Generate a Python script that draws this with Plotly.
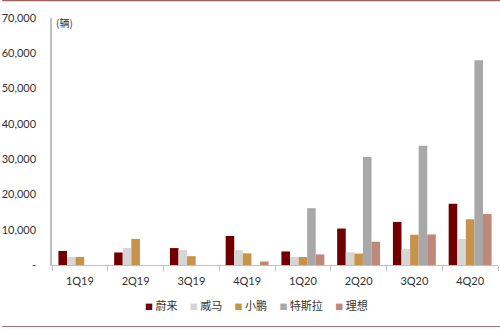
import plotly.graph_objects as go

quarters = ["1Q19", "2Q19", "3Q19", "4Q19", "1Q20", "2Q20", "3Q20", "4Q20"]
nio = [3989, 3553, 4799, 8224, 3838, 10331, 12206, 17353]
wm = [2300, 4800, 4200, 4200, 2300, 3600, 4500, 7400]
xpeng = [2300, 7400, 2500, 3300, 2271, 3228, 8578, 12964]
tesla = [None, None, None, None, 16100, 30600, 33800, 58000]
li = [None, None, None, 1000, 2989, 6604, 8660, 14464]

series_names = ["蔚来", "威马", "小鹏", "特斯拉", "理想"]
series_values = [nio, wm, xpeng, tesla, li]
colors = ["#700000", "#D6D6D6", "#C8924A", "#A8A8A8", "#C08878"]

y_ticks = [0, 10000, 20000, 30000, 40000, 50000, 60000, 70000]
y_ticktext = ["-"] + [f"{v:,}" for v in y_ticks[1:]]

fig = go.Figure()
for name, vals, c in zip(series_names, series_values, colors):
    fig.add_trace(go.Bar(x=quarters, y=vals, name=name, marker_color=c,
                         marker_line_width=0, showlegend=False))

L, R, T, B = 50, 2, 18, 64
W, H = 500, 329
pw, ph = W - L - R, H - T - B

sep = "\u00a0" * 5
legend_text = sep.join(
    f"<span style='color:{c};font-size:8px'>■</span>\u00a0{n}"
    for n, c in zip(series_names, colors))

fig.update_layout(
    width=W, height=H,
    margin=dict(l=L, r=R, t=T, b=B),
    paper_bgcolor="white", plot_bgcolor="white",
    barmode="group", bargap=0.23, bargroupgap=0,
    font=dict(family="Lato, 'Noto Sans CJK SC'", size=11, color="#333333"),
    showlegend=False,
    xaxis=dict(showline=True, linecolor="#BFBFBF", linewidth=1,
               ticks="outside", tickson="boundaries", ticklen=5,
               tickcolor="#BFBFBF", showgrid=False, ticklabelstandoff=6,
               tickfont=dict(size=11, color="#333333")),
    yaxis=dict(range=[0, 70000], tickvals=y_ticks, ticktext=y_ticktext,
               showline=True, linecolor="#BFBFBF", linewidth=1.5,
               showgrid=False, zeroline=False, ticks="",
               ticklabelstandoff=12,
               tickfont=dict(size=11, color="#333333")),
    annotations=[
        dict(text="(辆)", xref="paper", yref="paper",
             x=2 / pw, y=(T + ph - 22) / ph, xanchor="left",
             yanchor="middle", showarrow=False,
             font=dict(family="'Noto Sans CJK SC'", size=10, color="#333333")),
        dict(text=legend_text, xref="paper", yref="paper",
             x=(255 - L) / pw, y=(T + ph - 305) / ph, xanchor="center",
             yanchor="middle", showarrow=False,
             font=dict(family="'Noto Sans CJK SC'", size=11, color="#333333")),
    ],
    shapes=[
        dict(type="line", xref="paper", yref="paper",
             x0=-L / pw, x1=(W - L) / pw,
             y0=(T + ph - 0.5) / ph, y1=(T + ph - 0.5) / ph,
             line=dict(color="#A0605A", width=1.5)),
        dict(type="line", xref="paper", yref="paper",
             x0=-L / pw, x1=(W - L) / pw,
             y0=(T + ph - 326.5) / ph, y1=(T + ph - 326.5) / ph,
             line=dict(color="#B07070", width=1.2)),
    ],
)

fig.write_html("out.html")
